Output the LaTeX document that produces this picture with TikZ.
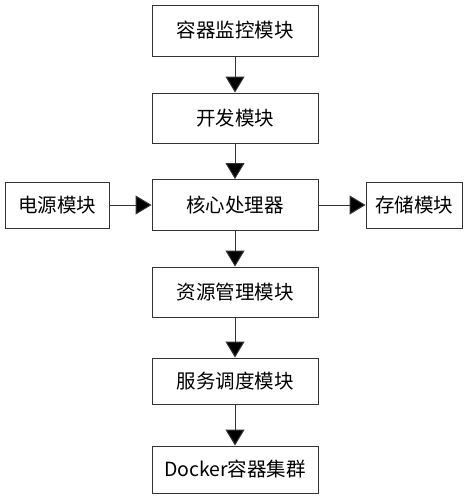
\documentclass[tikz,border=0pt]{standalone}
\usepackage{fontspec}
\newfontfamily\cjk{Noto Sans CJK SC}
\usetikzlibrary{arrows.meta}
\begin{document}
\begin{tikzpicture}[x=1pt,y=-1pt,
  box/.style={draw=black!80,line width=0.9pt,rectangle,inner sep=0pt,minimum width=166pt,font=\cjk\fontsize{19.5}{24}\selectfont},
  conn/.style={draw=black!80,line width=1pt,-{Triangle[width=19pt,length=16pt,fill=black]}}]
\useasboundingbox (0,0) rectangle (474,498);
\node[box,minimum height=51pt] (mon) at (235,30.5) {容器监控模块};
\node[box,minimum height=50pt] (dev) at (235,118) {开发模块};
\node[box,minimum height=51pt] (core) at (235,205) {核心处理器};
\node[box,minimum width=104pt,minimum height=46pt] (pwr) at (57,205) {电源模块};
\node[box,minimum width=96pt,minimum height=46pt] (sto) at (414,205) {存储模块};
\node[box,minimum height=50pt] (res) at (235,292) {资源管理模块};
\node[box,minimum height=46pt] (svc) at (235,381) {服务调度模块};
\node[box,minimum height=47pt] (dock) at (235,469.5) {Docker容器集群};
\draw[conn] (mon) -- (dev);
\draw[conn] (dev) -- (core);
\draw[conn] (pwr) -- (core);
\draw[conn] (core) -- (sto);
\draw[conn] (core) -- (res);
\draw[conn] (res) -- (svc);
\draw[conn] (svc) -- (dock);
\end{tikzpicture}
\end{document}
